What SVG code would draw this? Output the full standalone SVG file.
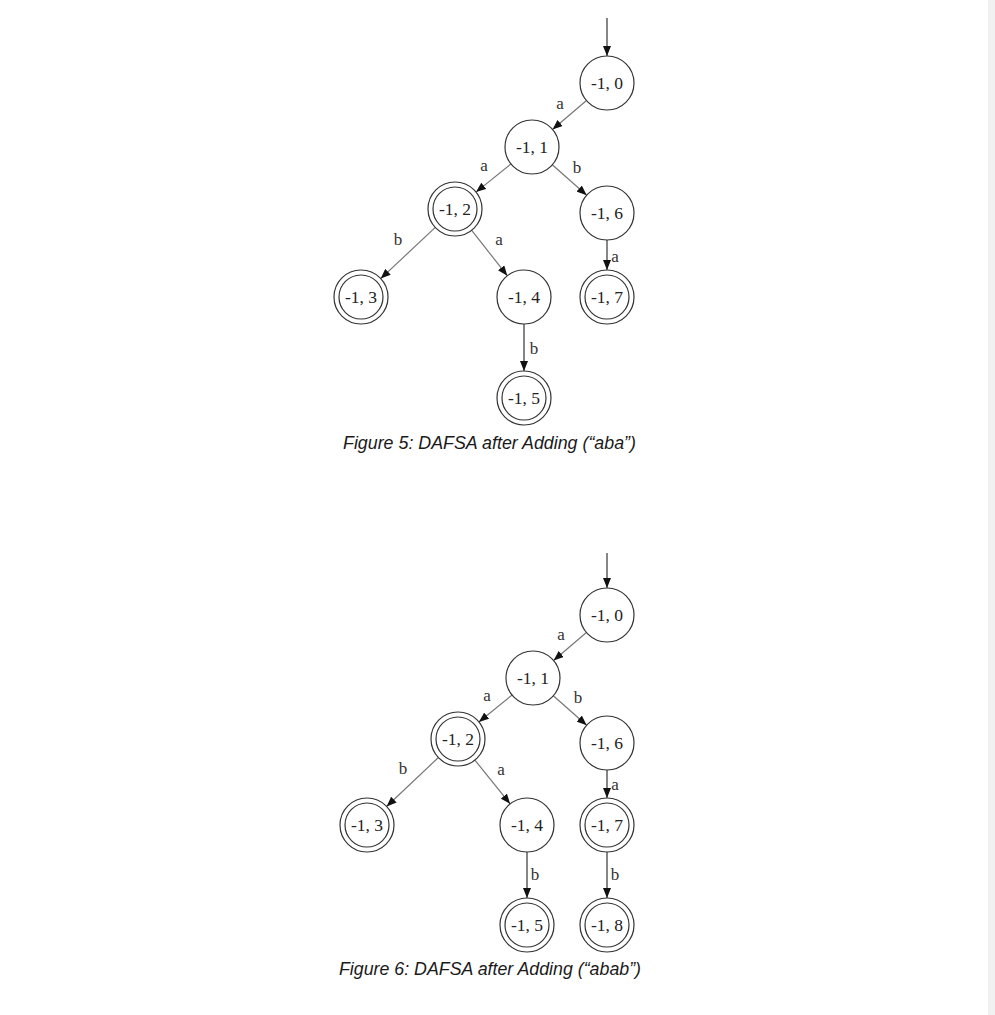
<svg xmlns="http://www.w3.org/2000/svg" width="995" height="1015" viewBox="0 0 995 1015">
<defs>
<marker id="arr" markerUnits="userSpaceOnUse" markerWidth="10" markerHeight="8" refX="10" refY="4" orient="auto">
<path d="M0,0 L10,4 L0,8 z" fill="#111"/>
</marker>
<style>
.st{fill:#fff;stroke:#333;stroke-width:1.2}
.lbl{font-family:"Liberation Serif","Times New Roman",serif;font-size:17.5px;fill:#222;text-anchor:middle}
.el{font-family:"Liberation Serif","Times New Roman",serif;font-size:17px;fill:#333;text-anchor:middle}
.d{stroke:#777;stroke-width:1.2;fill:none;marker-end:url(#arr)}
.v{stroke:#222;stroke-width:1.1;fill:none;marker-end:url(#arr)}
.cap{font-family:"Liberation Sans",Arial,sans-serif;font-style:italic;font-size:17.5px;fill:#1a1a1a}
</style>
</defs>
<rect width="995" height="1015" fill="#fff"/>
<rect x="988" y="0" width="7" height="1015" fill="#f1f1f1"/>

<!-- Figure 5 -->
<g id="fig5-edges">
<line class="v" x1="607" y1="18" x2="607" y2="56"/>
<line class="d" x1="586.5" y1="100.5" x2="552.5" y2="129.5"/>
<line class="d" x1="511" y1="163.9" x2="476" y2="192.1"/>
<line class="d" x1="552.3" y1="164.8" x2="586.7" y2="195.2"/>
<line class="d" x1="435.3" y1="227.4" x2="380.7" y2="278.6"/>
<line class="d" x1="471.7" y1="230.3" x2="507.3" y2="275.7"/>
<line class="v" x1="607" y1="240" x2="607" y2="270"/>
<line class="v" x1="524" y1="324" x2="524" y2="371"/>
<text class="el" x="560" y="109">a</text>
<text class="el" x="484" y="171">a</text>
<text class="el" x="577" y="173">b</text>
<text class="el" x="398" y="245">b</text>
<text class="el" x="499" y="245">a</text>
<text class="el" x="615" y="262">a</text>
<text class="el" x="534" y="354">b</text>
</g>
<g id="f5-n0"><circle class="st" cx="607" cy="83" r="27"/><text class="lbl" x="607" y="89">-1, 0</text></g>
<g id="f5-n1"><circle class="st" cx="532" cy="147" r="27"/><text class="lbl" x="532" y="153">-1, 1</text></g>
<g id="f5-n2"><circle class="st" cx="455" cy="209" r="27"/><circle class="st" cx="455" cy="209" r="22"/><text class="lbl" x="455" y="215">-1, 2</text></g>
<g id="f5-n6"><circle class="st" cx="607" cy="213" r="27"/><text class="lbl" x="607" y="219">-1, 6</text></g>
<g id="f5-n3"><circle class="st" cx="361" cy="297" r="27"/><circle class="st" cx="361" cy="297" r="22"/><text class="lbl" x="361" y="303">-1, 3</text></g>
<g id="f5-n4"><circle class="st" cx="524" cy="297" r="27"/><text class="lbl" x="524" y="303">-1, 4</text></g>
<g id="f5-n7"><circle class="st" cx="607" cy="297" r="27"/><circle class="st" cx="607" cy="297" r="22"/><text class="lbl" x="607" y="303">-1, 7</text></g>
<g id="f5-n5"><circle class="st" cx="524" cy="398" r="27"/><circle class="st" cx="524" cy="398" r="22"/><text class="lbl" x="524" y="404">-1, 5</text></g>
<text class="cap" x="343" y="449" textLength="293" lengthAdjust="spacingAndGlyphs">Figure 5: DAFSA after Adding (“aba”)</text>

<!-- Figure 6 -->
<g id="fig6-edges">
<line class="v" x1="607" y1="553" x2="607" y2="588"/>
<line class="d" x1="586.4" y1="632.5" x2="553.6" y2="660.5"/>
<line class="d" x1="512.1" y1="695" x2="478.9" y2="722"/>
<line class="d" x1="553.3" y1="695.8" x2="586.7" y2="725.2"/>
<line class="d" x1="438.4" y1="757.5" x2="386.6" y2="806.5"/>
<line class="d" x1="474.9" y1="760.1" x2="510.1" y2="803.9"/>
<line class="v" x1="607" y1="770" x2="607" y2="798"/>
<line class="v" x1="527" y1="852" x2="527" y2="898"/>
<line class="v" x1="607" y1="852" x2="607" y2="898"/>
<text class="el" x="561" y="640">a</text>
<text class="el" x="487" y="701">a</text>
<text class="el" x="578" y="703">b</text>
<text class="el" x="403" y="774">b</text>
<text class="el" x="501" y="775">a</text>
<text class="el" x="615" y="790">a</text>
<text class="el" x="535" y="880">b</text>
<text class="el" x="615" y="880">b</text>
</g>
<g id="f6-n0"><circle class="st" cx="607" cy="615" r="27"/><text class="lbl" x="607" y="621">-1, 0</text></g>
<g id="f6-n1"><circle class="st" cx="533" cy="678" r="27"/><text class="lbl" x="533" y="684">-1, 1</text></g>
<g id="f6-n2"><circle class="st" cx="458" cy="739" r="27"/><circle class="st" cx="458" cy="739" r="22"/><text class="lbl" x="458" y="745">-1, 2</text></g>
<g id="f6-n6"><circle class="st" cx="607" cy="743" r="27"/><text class="lbl" x="607" y="749">-1, 6</text></g>
<g id="f6-n3"><circle class="st" cx="367" cy="825" r="27"/><circle class="st" cx="367" cy="825" r="22"/><text class="lbl" x="367" y="831">-1, 3</text></g>
<g id="f6-n4"><circle class="st" cx="527" cy="825" r="27"/><text class="lbl" x="527" y="831">-1, 4</text></g>
<g id="f6-n7"><circle class="st" cx="607" cy="825" r="27"/><circle class="st" cx="607" cy="825" r="22"/><text class="lbl" x="607" y="831">-1, 7</text></g>
<g id="f6-n5"><circle class="st" cx="527" cy="925" r="27"/><circle class="st" cx="527" cy="925" r="22"/><text class="lbl" x="527" y="931">-1, 5</text></g>
<g id="f6-n8"><circle class="st" cx="607" cy="925" r="27"/><circle class="st" cx="607" cy="925" r="22"/><text class="lbl" x="607" y="931">-1, 8</text></g>
<text class="cap" x="339" y="975" textLength="302" lengthAdjust="spacingAndGlyphs">Figure 6: DAFSA after Adding (“abab”)</text>
</svg>
